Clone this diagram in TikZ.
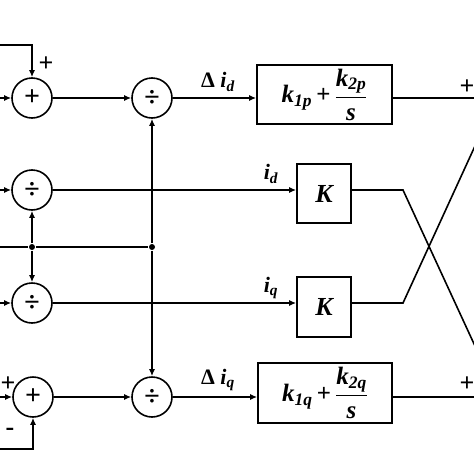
\documentclass[tikz,border=0pt]{standalone}
\usepackage{fontspec}
\setmainfont{Liberation Serif}
\usetikzlibrary{arrows.meta}
\newcommand{\kform}[2]{{\fontsize{25}{25}\selectfont\bfseries\itshape k\textsubscript{#1}\,+\,$\displaystyle\frac{\mbox{\bfseries\itshape k\textsubscript{#2}}}{\mbox{\bfseries\itshape s}}$}}
\begin{document}
\begin{tikzpicture}[x=1pt,y=-1pt,
  line width=1.6pt,
  junc/.style={circle,draw,minimum size=40pt,inner sep=0pt,font=\bfseries\fontsize{28}{28}\selectfont},
  blk/.style={draw,rectangle,inner sep=0pt},
  arr/.style={-{Latex[length=7pt,width=6pt]}},
  lbl/.style={font=\bfseries\itshape\fontsize{22}{22}\selectfont,inner sep=0pt},
  sgn/.style={font=\bfseries\fontsize{26}{26}\selectfont,inner sep=0pt},
  dotn/.style={circle,fill,inner sep=0pt,minimum size=6pt}]
\useasboundingbox (0,0) rectangle (474,474);

% nodes
\node[junc] (s1) at (32,98) {+};
\node[junc] (d1) at (152,98) {÷};
\node[blk,minimum width=135pt,minimum height=59pt] (b1) at (324.5,94.5) {\kform{1p}{2p}};
\node[junc] (d2) at (32,190) {÷};
\node[blk,minimum width=54pt,minimum height=59pt,font=\bfseries\itshape\fontsize{26}{26}\selectfont] (k1) at (324,193.5) {K};
\node[junc] (d3) at (32,303) {÷};
\node[blk,minimum width=54pt,minimum height=60pt,font=\bfseries\itshape\fontsize{26}{26}\selectfont] (k2) at (324,307) {K};
\node[junc] (s2) at (33,397) {+};
\node[junc] (d4) at (152,397) {÷};
\node[blk,minimum width=134pt,minimum height=60pt] (b2) at (325,393) {\kform{1q}{2q}};

\node[dotn] (j1) at (32,247) {};
\node[dotn] (j2) at (152,247) {};

% free ends
\coordinate (in1) at (0,98);
\coordinate (fb1) at (0,45);
\coordinate (out1) at (474,98);
\coordinate (in2) at (0,190);
\coordinate (in3) at (0,303);
\coordinate (inm) at (0,247);
\coordinate (in4) at (0,397);
\coordinate (fb4) at (0,449);
\coordinate (out4) at (474,397);
\coordinate (c1) at (403,190);
\coordinate (e1) at (475,346);
\coordinate (c2) at (403,303);
\coordinate (e2) at (475,146);

% row 1
\draw[arr] (in1) -- (s1);
\draw[arr] (fb1) -| (s1.north);
\draw[arr] (s1) -- (d1);
\draw[arr] (d1) -- (d1 -| b1.west);
\draw (d1 -| b1.east) -- (out1);
\node[sgn] at (46,64) {+};
\node[lbl] at (218,82) {{\upshape Δ} i\textsubscript{d}};
\node[sgn] at (467,87) {+};

% row 2
\draw[arr] (in2) -- (d2);
\draw[arr] (d2) -- (d2 -| k1.west);
\node[lbl] at (271,174) {i\textsubscript{d}};
\draw (d2 -| k1.east) -- (c1) -- (e1);

% middle
\draw (inm) -- (j1) -- (j2);
\draw[arr] (j1) -- (d2.south);
\draw[arr] (j1) -- (d3.north);
\draw[arr] (j2) -- (d1.south);
\draw[arr] (j2) -- (d4.north);

% row 3
\draw[arr] (in3) -- (d3);
\draw[arr] (d3) -- (d3 -| k2.west);
\node[lbl] at (271,288) {i\textsubscript{q}};
\draw (d3 -| k2.east) -- (c2) -- (e2);

% row 4
\draw[arr] (in4) -- (s2);
\draw[arr] (fb4) -| (s2.south);
\draw[arr] (s2) -- (d4);
\draw[arr] (d4) -- (d4 -| b2.west);
\draw (d4 -| b2.east) -- (out4);
\node[sgn] at (8,384) {+};
\node[sgn] at (10,432) {-};
\node[lbl] at (218,380) {{\upshape Δ} i\textsubscript{q}};
\node[sgn] at (467,384) {+};
\end{tikzpicture}
\end{document}
